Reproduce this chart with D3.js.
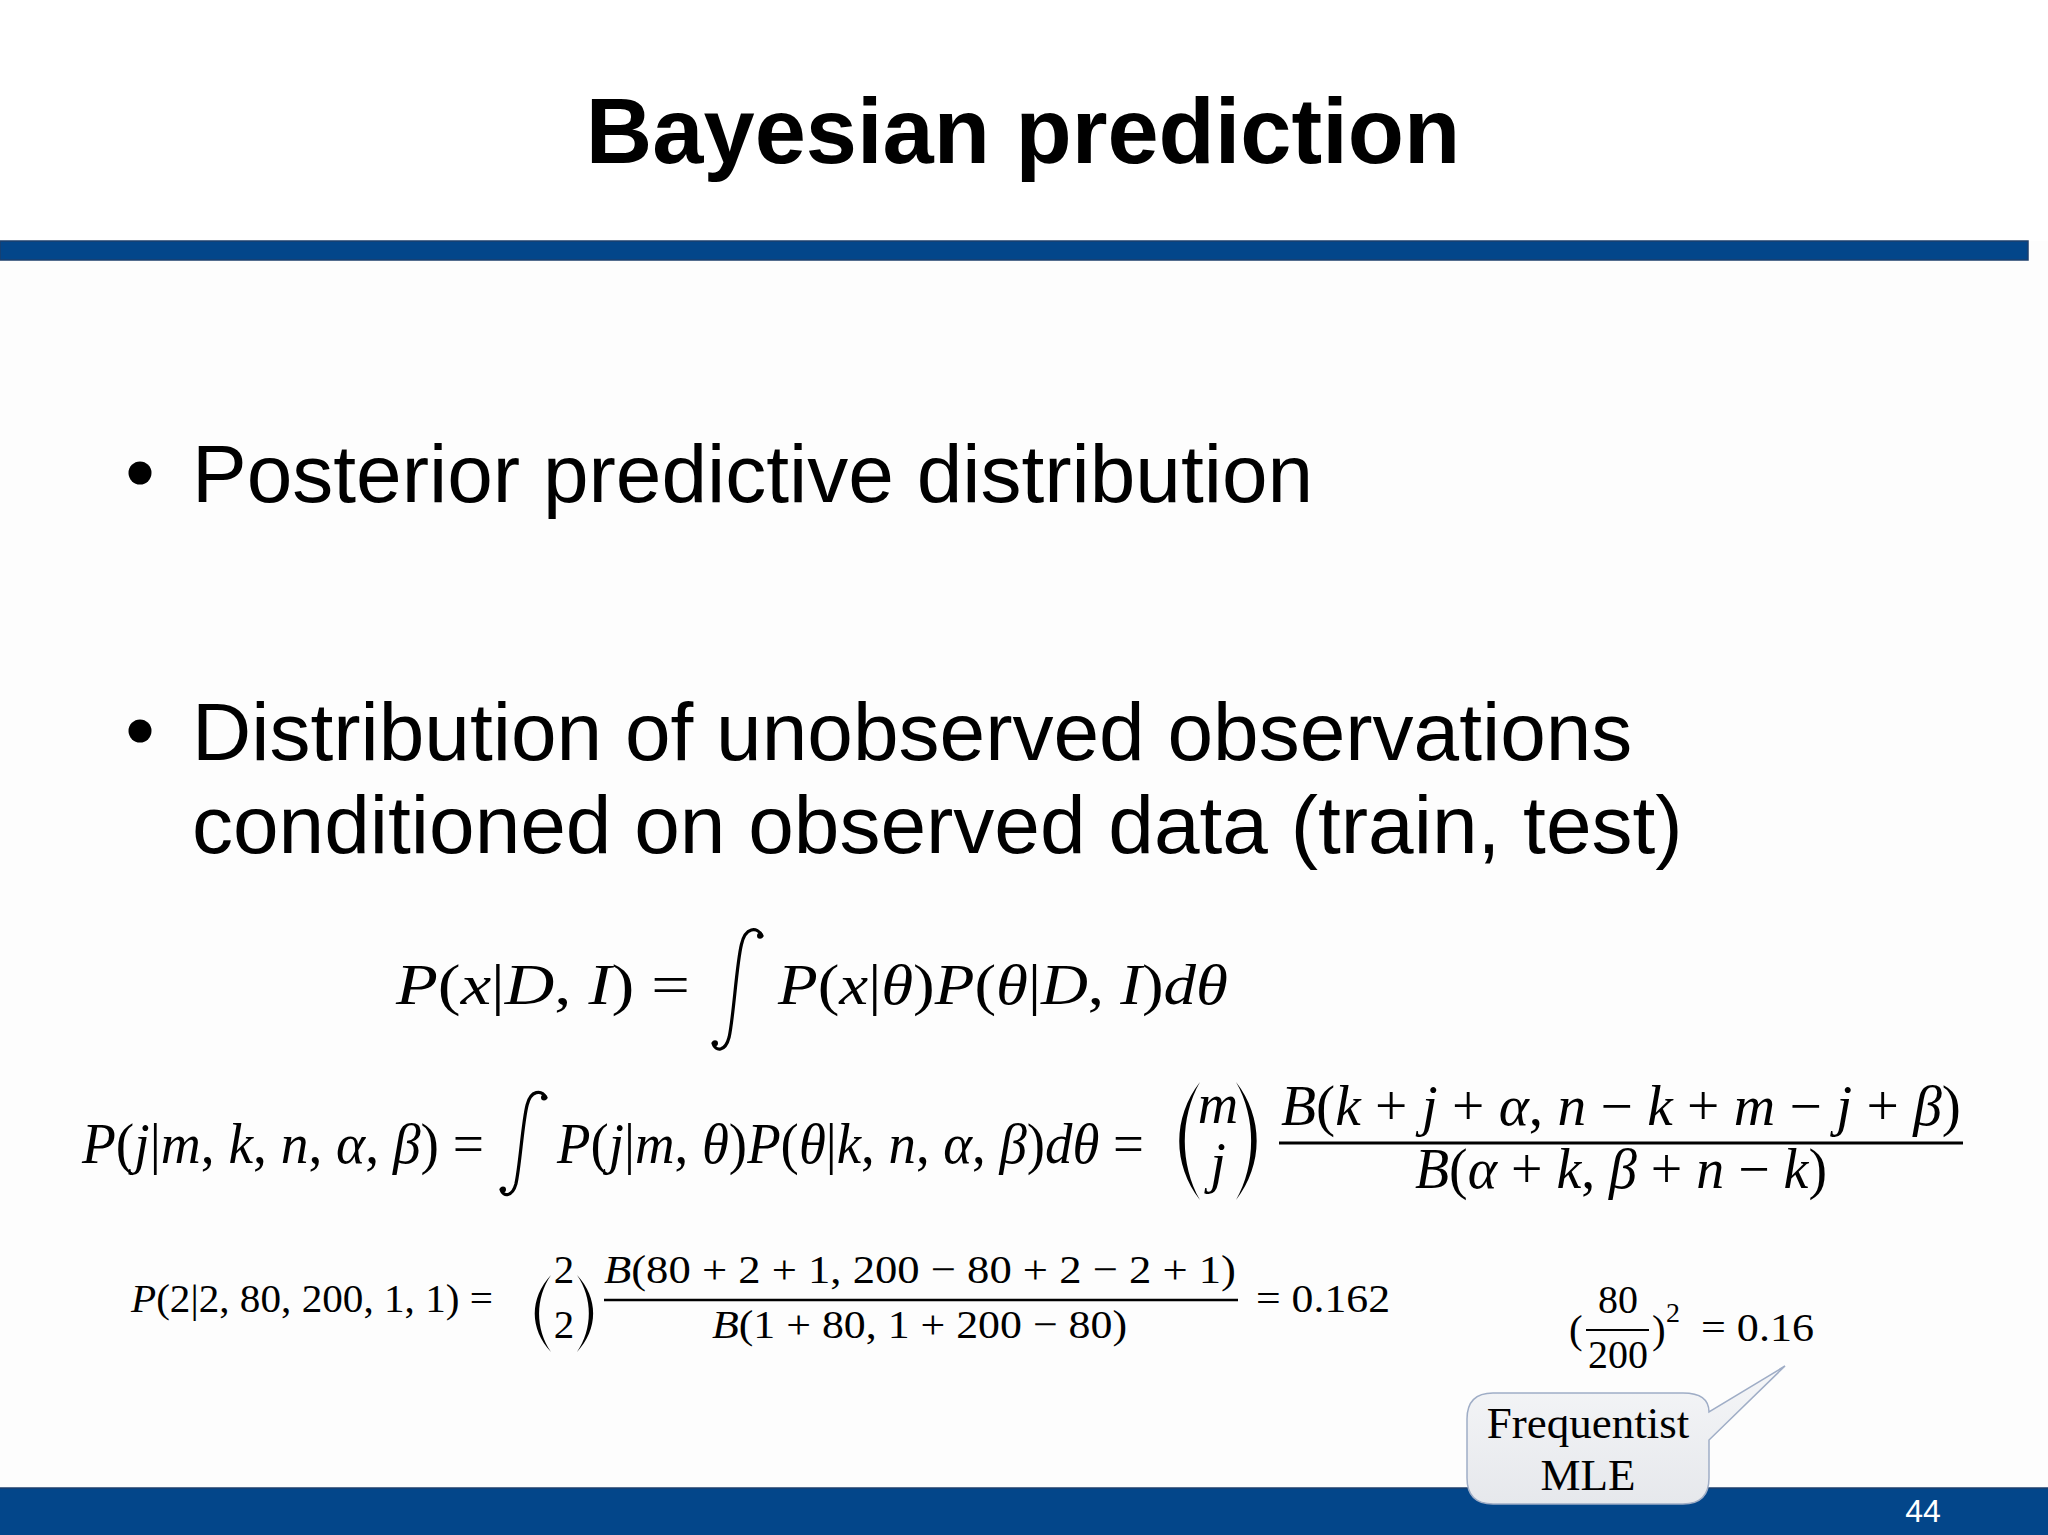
<!DOCTYPE html>
<html lang="en">

<head>
    <meta charset="UTF-8">
    <title>Bayesian prediction</title>
    <script src="https://d3js.org/d3.v7.min.js"></script>
    <style>
        body { margin: 0; background: #fff; }
        text { white-space: pre; }
    </style>
</head>

<body>
    <svg id="slide" width="2048" height="1535"></svg>

    <script>
        // slide content
        const titleText = "Bayesian prediction";
        const bulletLines = [
            ["Posterior predictive distribution"],
            ["Distribution of unobserved observations", "conditioned on observed data (train, test)"]
        ];
        const eq1 = ["P(x|D, I) =", "P(x|θ)P(θ|D, I)dθ"];
        const eq2 = ["P(j|m, k, n, α, β) =", "P(j|m, θ)P(θ|k, n, α, β)dθ =", "m", "j",
            "B(k + j + α, n − k + m − j + β)", "B(α + k, β + n − k)"];
        const eq3 = ["P(2|2, 80, 200, 1, 1) =", "2", "2",
            "B(80 + 2 + 1, 200 − 80 + 2 − 2 + 1)", "B(1 + 80, 1 + 200 − 80)", "= 0.162"];
        const mleEq = ["80", "200", "2", "= 0.16"];
        const calloutLines = ["Frequentist", "MLE"];
        const pageNumber = "44";

        const blue = "#03468a";
        const sans = "'Liberation Sans', Arial, sans-serif";
        const serif = "'Liberation Serif', 'Times New Roman', serif";

        const svg = d3.select("#slide");
        const W = 2048, H = 1535;

        svg.append("rect").attr("width", W).attr("height", H).attr("fill", "#fdfdfd");
        svg.append("rect").attr("width", W).attr("height", 241).attr("fill", "#fff");

        // title + bars
        svg.append("text")
            .attr("x", 1023).attr("y", 163)
            .attr("text-anchor", "middle")
            .attr("font-family", sans).attr("font-weight", "bold").attr("font-size", 92)
            .text(titleText);

        svg.append("rect").attr("x", 0).attr("y", 241).attr("width", 2028).attr("height", 19)
            .attr("fill", blue).attr("stroke", "#1d3f6c").attr("stroke-width", 1.5);

        // bullets
        const lineY = d3.scaleLinear().domain([0, 1]).range([0, 93]);
        const bulletTop = [502, 760];
        bulletLines.forEach((lines, i) => {
            svg.append("circle").attr("cx", 140).attr("cy", bulletTop[i] - 29).attr("r", 11.5).attr("fill", "#000");
            lines.forEach((l, j) => {
                svg.append("text")
                    .attr("x", 192).attr("y", bulletTop[i] + lineY(j))
                    .attr("font-family", sans).attr("font-size", 82)
                    .text(l);
            });
        });

        // math text: letters italic, the rest upright
        function math(str, x, y, size, width, anchor) {
            const t = svg.append("text")
                .attr("x", x).attr("y", y)
                .attr("font-family", serif).attr("font-size", size)
                .attr("text-anchor", anchor || "start");
            str.match(/[A-Za-zα-ωθ]+|[^A-Za-zα-ωθ]+/g).forEach(p => {
                t.append("tspan")
                    .attr("font-style", /[A-Za-zα-ω]/.test(p) ? "italic" : "normal")
                    .text(p);
            });
            if (width) t.attr("textLength", width).attr("lengthAdjust", "spacingAndGlyphs");
            return t;
        }

        function integral(x, y, w, h) {
            const p = d3.path();
            p.moveTo(x, y + h * 0.93);
            p.bezierCurveTo(x + w * 0.05, y + h, x + w * 0.25, y + h * 1.0, x + w * 0.33, y + h * 0.88);
            p.bezierCurveTo(x + w * 0.42, y + h * 0.72, x + w * 0.48, y + h * 0.3, x + w * 0.58, y + h * 0.14);
            p.bezierCurveTo(x + w * 0.66, y, x + w * 0.9, y - h * 0.005, x + w, y + h * 0.07);
            svg.append("path").attr("d", p.toString()).attr("fill", "none")
                .attr("stroke", "#000").attr("stroke-width", 3.2).attr("stroke-linecap", "round");
            svg.append("circle").attr("cx", x + 2).attr("cy", y + h * 0.93).attr("r", 3).attr("fill", "#000");
            svg.append("circle").attr("cx", x + w - 2).attr("cy", y + h * 0.07).attr("r", 3).attr("fill", "#000");
        }

        // big parenthesis as a filled crescent; dir = 1 left, -1 right
        function paren(x, y, w, h, dir) {
            const ex = dir > 0 ? x + w : x;
            const oc = dir > 0 ? x - 0.2 * w : x + w + 0.2 * w;
            const ic = dir > 0 ? x + 0.12 * w : x + w - 0.12 * w;
            const p = d3.path();
            p.moveTo(ex, y);
            p.bezierCurveTo(oc, y + h * 0.3, oc, y + h * 0.7, ex, y + h);
            p.bezierCurveTo(ic, y + h * 0.7, ic, y + h * 0.3, ex, y);
            p.closePath();
            svg.append("path").attr("d", p.toString()).attr("fill", "#000");
        }

        function bar(x1, x2, y, sw) {
            svg.append("line").attr("x1", x1).attr("x2", x2).attr("y1", y).attr("y2", y)
                .attr("stroke", "#000").attr("stroke-width", sw);
        }

        // equation 1
        math(eq1[0], 396, 1004, 56, 294);
        integral(713, 927, 49, 125);
        math(eq1[1], 778, 1004, 56, 450);

        // equation 2
        math(eq2[0], 82, 1163, 56, 402);
        integral(501, 1090, 45, 107);
        math(eq2[1], 557, 1163, 56, 587);
        paren(1177, 1082, 23, 118, 1);
        paren(1236, 1082, 23, 118, -1);
        math(eq2[2], 1218, 1123, 56, null, "middle");
        math(eq2[3], 1218, 1182, 56, null, "middle");
        math(eq2[4], 1281, 1125, 56, 680);
        bar(1279, 1963, 1143, 3);
        math(eq2[5], 1621, 1188, 56, 412, "middle");

        // equation 3
        math(eq3[0], 131, 1312, 41, 362);
        paren(533, 1275, 18, 77, 1);
        paren(577, 1275, 18, 77, -1);
        math(eq3[1], 564, 1283, 41, null, "middle");
        math(eq3[2], 564, 1338, 41, null, "middle");
        math(eq3[3], 604, 1283, 41, 632);
        bar(604, 1238, 1300, 2.5);
        math(eq3[4], 712, 1338, 41, 415);
        math(eq3[5], 1256, 1312, 41, 134);

        // frequentist estimate
        math("(", 1569, 1343, 41);
        math(mleEq[0], 1618, 1313, 41, 40, "middle");
        bar(1586, 1649, 1330, 2);
        math(mleEq[1], 1618, 1368, 41, 60, "middle");
        math(")", 1652, 1343, 41);
        math(mleEq[2], 1666, 1322, 28);
        math(mleEq[3], 1701, 1341, 41, 113);

        // bottom bar
        svg.append("rect").attr("x", 0).attr("y", 1488).attr("width", W).attr("height", 47)
            .attr("fill", blue);
        svg.append("line").attr("x1", 0).attr("x2", W).attr("y1", 1488).attr("y2", 1488)
            .attr("stroke", "#1d3f6c").attr("stroke-width", 1.5);
        svg.append("text")
            .attr("x", 1923).attr("y", 1522).attr("text-anchor", "middle")
            .attr("font-family", sans).attr("font-size", 32).attr("fill", "#fff")
            .text(pageNumber);

        // callout
        const grad = svg.append("defs").append("linearGradient")
            .attr("id", "callFill").attr("x1", 0).attr("y1", 0).attr("x2", 0).attr("y2", 1);
        grad.append("stop").attr("offset", "0%").attr("stop-color", "#f5f6f8");
        grad.append("stop").attr("offset", "100%").attr("stop-color", "#e6e8ec");

        const bx = 1467, by = 1393, bw = 242, bh = 111, r = 26;
        const c = d3.path();
        c.moveTo(bx + r, by);
        c.lineTo(bx + bw - r, by);
        c.quadraticCurveTo(bx + bw, by, bx + bw, by + r - 7);
        c.lineTo(1785, 1366);
        c.lineTo(bx + bw, 1440);
        c.lineTo(bx + bw, by + bh - r);
        c.quadraticCurveTo(bx + bw, by + bh, bx + bw - r, by + bh);
        c.lineTo(bx + r, by + bh);
        c.quadraticCurveTo(bx, by + bh, bx, by + bh - r);
        c.lineTo(bx, by + r);
        c.quadraticCurveTo(bx, by, bx + r, by);
        c.closePath();
        svg.append("path").attr("d", c.toString())
            .attr("fill", "url(#callFill)").attr("stroke", "#9fadc6").attr("stroke-width", 1.5);

        calloutLines.forEach((l, i) => {
            svg.append("text")
                .attr("x", 1588).attr("y", 1438 + i * 52).attr("text-anchor", "middle")
                .attr("font-family", serif).attr("font-size", 45)
                .text(l);
        });
    </script>

</body>

</html>
